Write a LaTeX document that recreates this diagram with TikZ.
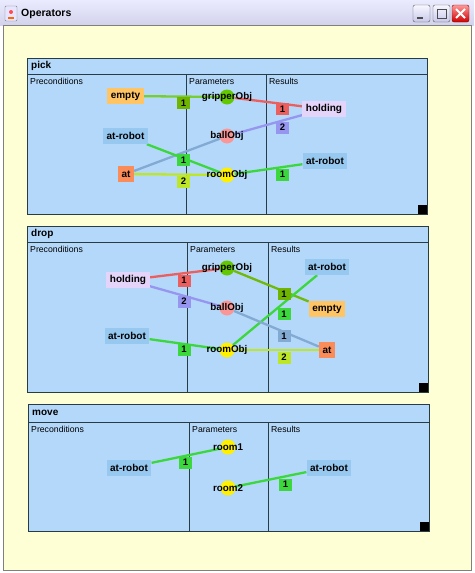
\documentclass[tikz,border=0pt]{standalone}
\usepackage{fontspec}
\setmainfont{Liberation Sans}
\usepackage{tikz}
\usetikzlibrary{positioning}

\definecolor{winbg}{RGB}{255,255,214}
\definecolor{panelbg}{RGB}{180,216,250}
\definecolor{framec}{RGB}{40,60,70}
\definecolor{cEmpty}{RGB}{255,196,100}
\definecolor{cHolding}{RGB}{228,212,250}
\definecolor{cRobot}{RGB}{150,200,240}
\definecolor{cAt}{RGB}{250,140,90}
\definecolor{cGripper}{RGB}{100,200,0}
\definecolor{cBall}{RGB}{250,150,150}
\definecolor{cRoom}{RGB}{255,240,0}
\definecolor{eLime}{RGB}{120,205,50}
\definecolor{eOlive}{RGB}{110,180,0}
\definecolor{eRed}{RGB}{235,95,95}
\definecolor{ePurple}{RGB}{150,150,240}
\definecolor{eSteel}{RGB}{130,170,210}
\definecolor{eGreen}{RGB}{60,215,60}
\definecolor{eYellow}{RGB}{190,230,40}

\pgfdeclarelayer{back}
\pgfdeclarelayer{edges}
\pgfsetlayers{back,edges,main}

\tikzset{
  pred/.style={fill=#1, inner xsep=3.5pt, inner ysep=2pt, minimum height=16pt, font=\bfseries\fontsize{10}{10}\selectfont},
  parm/.style={circle, fill=#1, minimum size=15pt, inner sep=0pt},
  ptext/.style={label={[font=\bfseries\fontsize{9.8}{10}\selectfont, inner sep=0pt]center:#1}},
  num/.style={fill=#1, minimum width=13pt, minimum height=12pt, inner sep=0pt, font=\bfseries\fontsize{9.5}{10}\selectfont},
  link/.style={draw=#1, line width=2.3pt},
  colhead/.style={anchor=north west, inner sep=0pt, font=\fontsize{8.7}{9}\selectfont},
  winbtn/.style={rounded corners=2pt, draw=gray!70!black, top color=white!85!blue!20, bottom color=gray!55!blue!30},
}

\begin{document}
\begin{tikzpicture}[x=1pt,y=-1pt]
\useasboundingbox (0,0) rectangle (474,573);

\begin{pgfonlayer}{back}
  \fill[white] (0,0) rectangle (474,573);
  \shade[top color=white!92!blue, bottom color=gray!60!blue!25] (0,0) rectangle (474,25);
  \fill[winbg] (3,25) rectangle (471,570);
  \draw[gray] (3,25) rectangle (471,570);
  % window title and icon
  \node[anchor=west, inner sep=0pt, font=\bfseries\fontsize{10.5}{11}\selectfont] (title) at (21,14) {Operators};
  \draw[gray, fill=white!90!blue, rounded corners=1pt] (5,6) rectangle (17,21);
  \fill[orange!80!red] (8,17) rectangle (14,19);
  \fill[red!70] (11,12) circle (2);
  % window buttons
  \draw[winbtn] (413,5) rectangle (430,22);
  \draw[winbtn] (433,5) rectangle (450,22);
  \draw[rounded corners=2pt, draw=red!50!black, top color=red!40, bottom color=red!80!black] (452,5) rectangle (469,22);
  \draw[line width=2pt, black!70] (417,18) -- (423,18);
  \draw[line width=1pt, black!70] (437,9) rectangle (446,18);
  \draw[line width=1.8pt, white] (456,9) -- (465,18) (465,9) -- (456,18);
  % panels
  \foreach \t/\xl/\xr/\ya/\yh/\yb/\xa/\xb in {pick/27/427/58/74/214/186/266,
      drop/27/428/226/242/392/187/268, move/28/429/404/422/531/189/268}{
    \fill[panelbg] (\xl,\ya) rectangle (\xr,\yb);
    \draw[framec, line width=1pt] (\xl,\ya) rectangle (\xr,\yb)
      (\xl,\yh) -- (\xr,\yh) (\xa,\yh) -- (\xa,\yb) (\xb,\yh) -- (\xb,\yb);
    \fill[black] ({\xr-9},{\yb-9}) rectangle (\xr,\yb);
    \node[anchor=west, inner sep=0pt, font=\bfseries\fontsize{10}{10}\selectfont] at ({\xl+4},{(\ya+\yh)/2}) {\t};
    \node[colhead] at ({\xl+3},{\yh+4}) {Preconditions};
    \node[colhead] at ({\xa+3},{\yh+4}) {Parameters};
    \node[colhead] at ({\xb+3},{\yh+4}) {Results};
  }
\end{pgfonlayer}

% pick
\node[pred=cEmpty] (pEmpty) at (125.5,96) {empty};
\node[pred=cRobot] (pRobotA) at (125.5,136) {at-robot};
\node[pred=cAt] (pAt) at (126,174) {at};
\node[parm=cGripper, ptext=gripperObj] (pGripper) at (227,97) {};
\node[parm=cBall, ptext=ballObj] (pBall) at (227,136) {};
\node[parm=cRoom, ptext=roomObj] (pRoom) at (227,175) {};
\node[pred=cHolding] (pHolding) at (324,109) {holding};
\node[pred=cRobot] (pRobotB) at (325,161) {at-robot};
\begin{pgfonlayer}{edges}
  \draw[link=eLime] (pEmpty) -- (pGripper);
  \draw[link=eRed] (pGripper) -- (pHolding);
  \draw[link=ePurple] (pBall) -- (pHolding);
  \draw[link=eSteel] (pAt) -- (pBall);
  \draw[link=eGreen] (pRobotA) -- (pRoom);
  \draw[link=eYellow] (pAt) -- (pRoom);
  \draw[link=eGreen] (pRoom) -- (pRobotB);
\end{pgfonlayer}
\node[num=eOlive] (pn1) at (183.5,103) {1};
\node[num=eRed] (pn2) at (282.5,109) {1};
\node[num=ePurple] (pn3) at (282.5,127.5) {2};
\node[num=eGreen] (pn4) at (183.5,160) {1};
\node[num=eYellow] (pn5) at (183.5,181.5) {2};
\node[num=eGreen] (pn6) at (282.5,174.5) {1};

% drop
\node[pred=cHolding] (dHolding) at (128,280) {holding};
\node[pred=cRobot] (dRobotA) at (127,336) {at-robot};
\node[parm=cGripper, ptext=gripperObj] (dGripper) at (227,268) {};
\node[parm=cBall, ptext=ballObj] (dBall) at (227,308) {};
\node[parm=cRoom, ptext=roomObj] (dRoom) at (227,350) {};
\node[pred=cRobot] (dRobotB) at (327,267) {at-robot};
\node[pred=cEmpty] (dEmpty) at (327,309) {empty};
\node[pred=cAt] (dAt) at (327,350) {at};
\begin{pgfonlayer}{edges}
  \draw[link=eRed] (dHolding) -- (dGripper);
  \draw[link=ePurple] (dHolding) -- (dBall);
  \draw[link=eGreen] (dRobotA) -- (dRoom);
  \draw[link=eOlive!80!eLime] (dGripper) -- (dEmpty);
  \draw[link=eGreen] (dRoom) -- (dRobotB);
  \draw[link=eSteel] (dBall) -- (dAt);
  \draw[link=eYellow] (dRoom) -- (dAt);
\end{pgfonlayer}
\node[num=eRed] (dn1) at (184,280.5) {1};
\node[num=ePurple] (dn2) at (184,301.5) {2};
\node[num=eGreen] (dn3) at (184,349.5) {1};
\node[num=eOlive] (dn4) at (284,294) {1};
\node[num=eGreen] (dn5) at (284,314) {1};
\node[num=eSteel] (dn6) at (284,336) {1};
\node[num=eYellow] (dn7) at (284,357.5) {2};

% move
\node[pred=cRobot] (mRobotA) at (129,467.5) {at-robot};
\node[parm=cRoom, ptext=room1] (mRoom1) at (228,447) {};
\node[parm=cRoom, ptext=room2] (mRoom2) at (228,488) {};
\node[pred=cRobot] (mRobotB) at (329,467.5) {at-robot};
\begin{pgfonlayer}{edges}
  \draw[link=eGreen] (mRobotA) -- (mRoom1);
  \draw[link=eGreen] (mRoom2) -- (mRobotB);
\end{pgfonlayer}
\node[num=eGreen] (mn1) at (185.5,462.5) {1};
\node[num=eGreen] (mn2) at (285.5,484.5) {1};
\end{tikzpicture}
\end{document}
